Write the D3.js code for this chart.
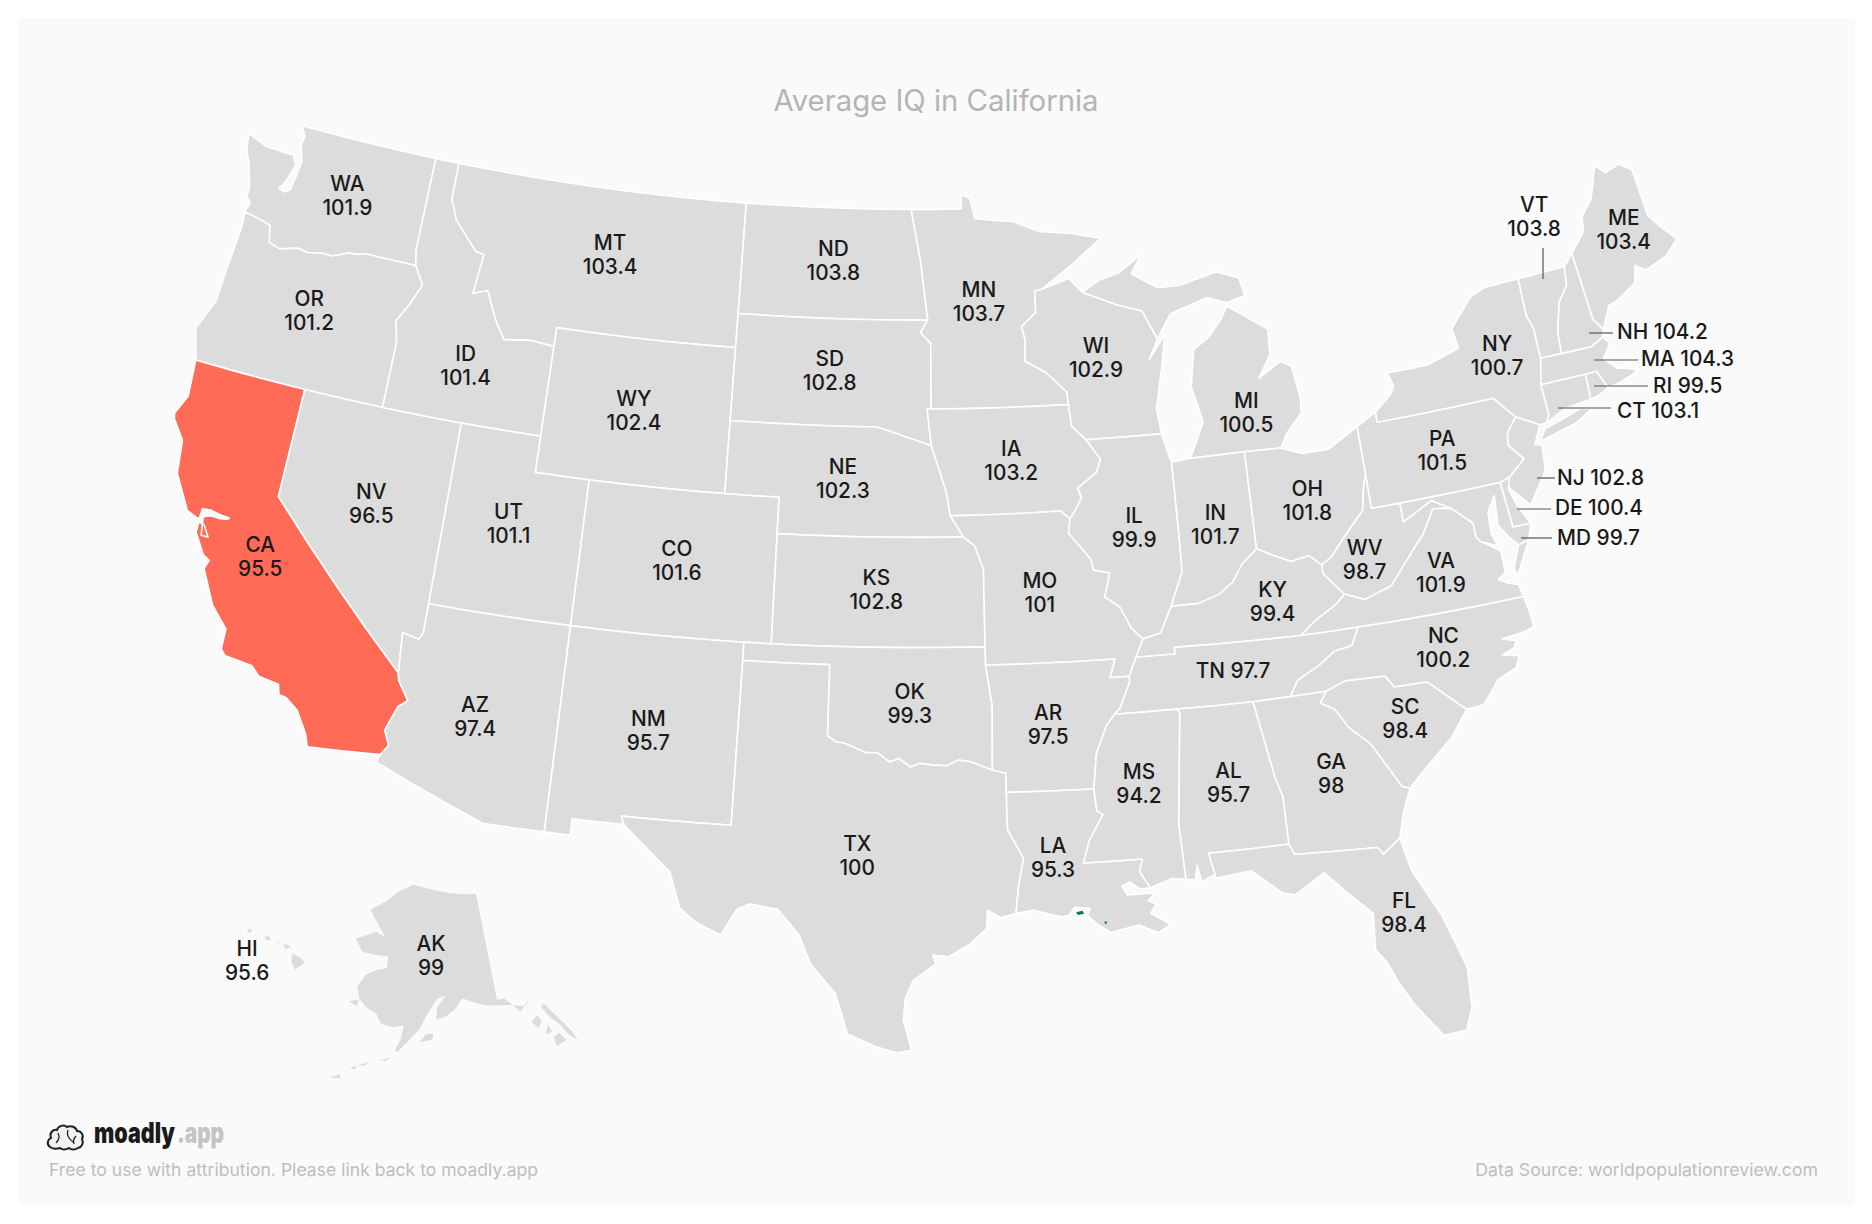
<!DOCTYPE html>
<html><head><meta charset="utf-8">
<script src="https://cdn.jsdelivr.net/npm/d3@7/dist/d3.min.js"></script>
<style>html,body{margin:0;padding:0;background:#fff}svg{display:block}text{font-family:Inter,Roboto,sans-serif}</style>
</head><body><svg id="c" width="1872" height="1224"></svg>
<script>
const stateCodes=["WA","OR","CA","NV","ID","MT","WY","UT","AZ","CO","NM","ND","SD","NE","KS","OK","TX","MN","IA","MO","AR","LA","WI","IL","MI","IN","OH","KY","WV","VA","TN","NC","SC","GA","AL","MS","FL","PA","NY","VT","ME","HI","AK","NH","MA","RI","CT","NJ","DE","MD"];
const iqValues=["101.9","101.2","95.5","96.5","101.4","103.4","102.4","101.1","97.4","101.6","95.7","103.8","102.8","102.3","102.8","99.3","100","103.7","103.2","101","97.5","95.3","102.9","99.9","100.5","101.7","101.8","99.4","98.7","101.9","97.7","100.2","98.4","98","95.7","94.2","98.4","101.5","100.7","103.8","103.4","95.6","99","104.2","104.3","99.5","103.1","102.8","100.4","99.7"];
const titleText="Average IQ in California";
const highlightState="CA";
const redRiver="-94.48 33.64,-94.9 33.78,-95.2 33.88,-95.6 33.93,-96 33.78,-96.45 33.8,-96.9 33.85,-97.2 33.75,-97.6 33.98,-97.9 33.88,-98.3 34.13,-98.7 34.13,-99.2 34.3,-99.45 34.38,-99.7 34.4,-100 34.56";
const rev=s=>s.split(",").reverse().join(",");
const outlines={
WA:["-124.73 48.38,-123.9 48.17,-123.1 48.15,-122.75 48.15,-122.55 47.9,-122.75 47.4,-122.95 47.15,-122.7 47.1,-122.5 47.2,-122.4 47.65,-122.35 48.05,-122.55 48.45,-122.5 48.75,-122.76 49,-117.03 49,-117.04 46.42,-116.92 45.99,-118.98 46,-119.3 45.93,-119.6 45.92,-120.2 45.73,-120.65 45.73,-121.2 45.65,-121.6 45.7,-122.3 45.55,-122.75 45.65,-122.9 46.1,-123.4 46.2,-124 46.27,-123.9 46.55,-124.1 46.7,-124.1 46.95,-124.4 47.6,-124.65 47.95"],
OR:["-124 46.27,-123.4 46.2,-122.9 46.1,-122.75 45.65,-122.3 45.55,-121.6 45.7,-121.2 45.65,-120.65 45.73,-120.2 45.73,-119.6 45.92,-119.3 45.93,-118.98 46,-116.92 45.99,-116.5 45.5,-116.85 44.9,-117.22 44.4,-117.03 43.83,-117.03 42,-124.21 42,-124.55 42.84,-124.1 43.7,-124.05 44.7,-123.95 45.9"],
CA:["-124.21 42,-120 42,-120 39,-114.63 35,-114.57 34.8,-114.14 34.3,-114.43 34.1,-114.72 33.4,-114.5 33,-114.72 32.72,-117.12 32.53,-117.25 32.85,-117.7 33.45,-118.15 33.72,-118.4 33.75,-118.5 34.03,-119.2 34.12,-119.5 34.35,-120.47 34.45,-120.64 34.6,-120.65 35.15,-121.3 35.7,-121.9 36.6,-121.8 36.85,-122.05 36.95,-122.5 37.5,-122.5 37.78,-122.3 37.75,-122.05 37.45,-122.3 37.45,-122.4 37.95,-122.15 38.03,-121.85 38.02,-121.55 38.05,-121.5 38.1,-121.85 38.12,-122.2 38.18,-122.5 38.15,-122.52 37.85,-123 38,-123.7 38.9,-123.85 39.8,-124.35 40.3,-124.4 40.45,-124.1 41,-124.21 42"],
NV:["-120 42,-114.04 42,-114.04 36.2,-114.15 36,-114.74 36.1,-114.63 35,-120 39"],
ID:["-117.03 49,-116.05 49,-116.05 48,-115.7 47.45,-114.7 46.7,-114.35 46.65,-114.5 45.55,-113.95 45.7,-113.45 44.95,-113 44.45,-112 44.55,-111.05 44.48,-111.05 42,-117.03 42,-117.03 43.83,-117.22 44.4,-116.85 44.9,-116.5 45.5,-116.92 45.99,-117.04 46.42"],
MT:["-116.05 49,-104.05 49,-104.05 45,-111.05 45,-111.05 44.48,-112 44.55,-113 44.45,-113.45 44.95,-113.95 45.7,-114.5 45.55,-114.35 46.65,-114.7 46.7,-115.7 47.45,-116.05 48"],
WY:["-111.05 45,-104.05 45,-104.05 41,-111.05 41"],
UT:["-114.04 42,-111.05 42,-111.05 41,-109.05 41,-109.05 37,-114.04 37"],
AZ:["-114.04 37,-109.05 37,-109.05 31.33,-111.07 31.33,-114.81 32.5,-114.72 32.72,-114.5 33,-114.72 33.4,-114.43 34.1,-114.14 34.3,-114.57 34.8,-114.63 35,-114.74 36.1,-114.15 36,-114.04 36.2"],
CO:["-109.05 41,-102.05 41,-102.05 37,-109.05 37"],
NM:["-109.05 37,-103 37,-103.04 32,-106.62 32,-106.53 31.78,-108.21 31.78,-108.21 31.33,-109.05 31.33"],
ND:["-104.05 49,-97.23 49,-96.85 47.6,-96.56 45.94,-104.05 45.94"],
SD:["-104.05 45.94,-96.56 45.94,-96.85 45.6,-96.45 45.3,-96.45 43.5,-96.6 43.5,-96.45 42.5,-97.85 42.85,-98.5 43,-104.05 43"],
NE:["-104.05 43,-98.5 43,-97.85 42.85,-96.45 42.5,-96.1 41.7,-95.9 41.2,-95.77 40.58,-95.3 40,-102.05 40,-102.05 41,-104.05 41"],
KS:["-102.05 40,-95.3 40,-94.9 39.75,-94.61 39.11,-94.62 37,-102.05 37"],
OK:["-103 37,-94.62 37,-94.62 36.5,-94.43 35.4,"+redRiver+",-100 36.5,-103 36.5"],
TX:["-103 36.5,-100 36.5,"+rev(redRiver)+",-94.04 33.55,-94.04 33.02,-94.04 32,-93.55 31.2,-93.75 30.4,-93.85 29.7,-94.35 29.6,-94.75 29.8,-94.8 29.3,-95.3 28.9,-96 28.55,-96.5 28.6,-96.4 28.35,-97.1 27.9,-97.35 27.4,-97.4 26.8,-97.15 25.96,-97.6 25.9,-98.2 26.05,-99.1 26.4,-99.5 27.5,-100.3 28.3,-100.7 29.1,-101.4 29.77,-102.3 29.88,-102.7 29.7,-103.15 28.98,-104 29.3,-104.5 29.65,-104.9 30.6,-106 31.4,-106.53 31.78,-106.62 32,-103.04 32"],
MN:["-97.23 49,-95.15 49,-95.15 49.38,-94.8 49.3,-94.6 48.72,-93 48.6,-92 48.3,-90.8 48.2,-89.5 48,-90.8 47.3,-92 46.7,-92.29 46.66,-92.29 46.07,-92.87 45.7,-92.75 45.3,-92.8 44.75,-92 44.4,-91.25 43.85,-91.22 43.5,-96.45 43.5,-96.45 45.3,-96.85 45.6,-96.56 45.94,-96.85 47.6"],
IA:["-96.45 43.5,-91.22 43.5,-91.15 42.9,-90.64 42.51,-90.15 41.95,-90.34 41.6,-91.07 41.2,-90.95 40.95,-91.12 40.7,-91.42 40.38,-91.73 40.61,-95.77 40.58,-95.9 41.2,-96.1 41.7,-96.45 42.5,-96.6 43.5"],
MO:["-95.77 40.58,-91.73 40.61,-91.42 40.38,-91.5 40,-90.75 39.25,-90.68 38.95,-90.12 38.85,-90.2 38.6,-90.35 38.2,-89.85 37.9,-89.5 37.3,-89.13 36.98,-89.42 36.5,-89.7 36,-90.37 36,-90.15 36.5,-94.62 36.5,-94.62 37,-94.61 39.11,-94.9 39.75,-95.3 40"],
AR:["-94.62 36.5,-90.15 36.5,-90.37 36,-89.7 36,-89.7 35.85,-90.1 35.15,-90.3 35,-90.6 34.7,-91 33.95,-91.15 33,-94.04 33.02,-94.04 33.55,-94.48 33.64,-94.43 35.4"],
LA:["-94.04 33.02,-91.15 33,-91.1 32.4,-90.9 32.3,-91.4 31.6,-91.63 31,-89.73 31,-89.85 30.67,-89.55 30.2,-89.85 30.18,-90.2 30.4,-90.45 30.3,-90.3 30.05,-89.85 30.05,-89.4 30.05,-89.65 29.85,-89.4 29.75,-89.6 29.5,-89 29.15,-89.4 28.95,-90 29.2,-90.9 29.05,-91.3 29.3,-91.6 29.55,-91.5 29.75,-92 29.8,-92.15 29.6,-92.4 29.55,-93.3 29.77,-93.85 29.7,-93.75 30.4,-93.55 31.2,-94.04 32"],
MS:["-90.3 35,-88.2 35,-88.1 34.9,-88.47 31.9,-88.4 30.35,-88.85 30.4,-89.55 30.2,-89.85 30.67,-89.73 31,-91.63 31,-91.4 31.6,-90.9 32.3,-91.1 32.4,-91.15 33,-91 33.95,-90.6 34.7"],
AL:["-88.2 35,-85.6 34.98,-85.18 32.87,-85 32.3,-85 31,-87.6 31,-87.45 30.4,-87.9 30.25,-88 30.7,-88.1 30.3,-88.4 30.35,-88.47 31.9,-88.1 34.9"],
GA:["-85.6 34.98,-84.32 34.99,-83.1 35,-83.35 34.7,-82.9 34.48,-82.55 33.95,-81.9 33.4,-81.4 32.6,-81.1 32.1,-80.85 32.03,-81.2 31.4,-81.45 30.72,-82.05 30.36,-82.2 30.57,-84.86 30.7,-85 31,-85 32.3,-85.18 32.87"],
FL:["-87.6 31,-85 31,-84.86 30.7,-82.2 30.57,-82.05 30.36,-81.45 30.72,-81.25 29.8,-80.55 28.45,-80.05 26.9,-80.13 25.8,-80.4 25.2,-81.1 25.15,-81.8 26.1,-82.2 26.8,-82.45 27.4,-82.75 27.8,-82.65 28.8,-83.4 29.5,-84 30.1,-85 29.6,-85.4 29.7,-86.3 30.4,-87.45 30.3,-87.45 30.4"],
SC:["-83.1 35,-82.4 35.2,-81.05 35.15,-80.8 34.82,-79.68 34.8,-78.55 33.86,-79.2 33.2,-80.5 32.3,-80.85 32.03,-81.1 32.1,-81.4 32.6,-81.9 33.4,-82.55 33.95,-82.9 34.48,-83.35 34.7"],
NC:["-84.32 34.99,-83.1 35,-82.4 35.2,-81.05 35.15,-80.8 34.82,-79.68 34.8,-78.55 33.86,-77.95 33.9,-77.3 34.5,-76.65 34.7,-76.45 35,-77 35.12,-76.55 35.25,-76.45 35.42,-76.9 35.55,-76.05 35.62,-75.75 35.7,-75.8 36.2,-75.87 36.55,-81.68 36.59,-82 36.12,-82.6 36.05,-83.15 35.75,-84 35.4"],
TN:["-90.3 35,-88.2 35,-85.6 34.98,-84.32 34.99,-84 35.4,-83.15 35.75,-82.6 36.05,-82 36.12,-81.68 36.59,-83.68 36.6,-88.07 36.68,-88.07 36.5,-89.42 36.5,-89.7 36,-89.7 35.85,-90.1 35.15"],
KY:["-89.42 36.5,-88.07 36.5,-88.07 36.68,-83.68 36.6,-83.1 36.95,-82.3 37.3,-81.97 37.54,-82.6 38.17,-82.6 38.42,-83 38.72,-83.65 38.63,-84.23 38.85,-84.82 39.1,-85.4 38.73,-85.8 38.28,-86.3 38,-87.1 37.8,-88.05 37.8,-88.5 37.1,-89.13 36.98"],
VA:["-83.68 36.6,-81.68 36.59,-75.87 36.55,-75.95 36.9,-76.3 37,-76.6 37.15,-76.3 37.3,-76.3 37.9,-76.9 38.25,-77.05 38.4,-77.05 38.8,-77.72 39.32,-78.35 39.4,-78.87 38.77,-79.3 38.42,-80.3 37.55,-81.3 37.3,-81.97 37.54,-82.3 37.3,-83.1 36.95","-75.65 37.95,-75.25 38.03,-75.9 37.15,-75.98 37.35"],
WV:["-80.52 40.64,-80.52 39.72,-79.48 39.72,-79.48 39.2,-78.35 39.63,-77.72 39.32,-78.35 39.4,-78.87 38.77,-79.3 38.42,-80.3 37.55,-81.3 37.3,-81.97 37.54,-82.6 38.17,-82.6 38.42,-82.2 38.6,-81.75 39,-80.85 39.7,-80.65 40.4"],
MD:["-79.48 39.72,-75.79 39.72,-75.7 38.46,-75.05 38.45,-75.25 38.03,-75.65 37.95,-75.9 38.2,-76.2 38.6,-76.1 39.4,-76.45 39,-76.5 38.4,-76.35 38.05,-76.9 38.25,-77.05 38.4,-77.05 38.8,-77.72 39.32,-78.35 39.63,-79.48 39.2"],
DE:["-75.79 39.72,-75.42 39.8,-75.55 39.5,-75.4 39.05,-75.05 38.45,-75.7 38.46"],
PA:["-80.52 41.98,-79.76 42.27,-79.76 42,-75.35 42,-74.7 41.36,-75.13 40.98,-75.2 40.65,-74.75 40.2,-75.42 39.8,-75.79 39.72,-80.52 39.72,-80.52 40.64"],
NJ:["-74.7 41.36,-73.9 41,-74.25 40.5,-74 40.45,-74.1 39.75,-74.9 38.93,-75.5 39.5,-75.55 39.6,-75.42 39.8,-74.75 40.2,-75.2 40.65,-75.13 40.98"],
NY:["-79.76 42.27,-79.05 42.7,-78.9 42.9,-79.05 43.27,-77.5 43.27,-76.4 43.5,-76.2 43.55,-76.3 44.1,-75.3 44.85,-74.7 45,-73.35 45.01,-73.4 44,-73.25 43.6,-73.27 42.75,-73.5 42.05,-73.49 41.2,-73.65 41,-73.9 41,-74.7 41.36,-75.35 42,-79.76 42","-74 40.6,-73.75 40.85,-72.3 41.15,-71.9 41.07,-72.6 40.8,-73.9 40.57"],
CT:["-73.5 42.05,-71.8 42.02,-71.85 41.32,-72.9 41.25,-73.65 41,-73.49 41.2"],
RI:["-71.8 42.02,-71.38 42.02,-71.12 41.5,-71.5 41.37,-71.85 41.32"],
MA:["-73.5 42.05,-73.27 42.75,-71.3 42.7,-70.8 42.87,-70.6 42.65,-71 42.3,-70.6 41.95,-70 41.8,-70.2 42.07,-69.95 41.7,-70.65 41.55,-71.12 41.5,-71.38 42.02,-71.8 42.02"],
VT:["-73.35 45.01,-71.5 45.01,-71.6 44.5,-72.05 44.1,-72.4 43.3,-72.46 42.73,-73.27 42.75,-73.25 43.6,-73.4 44"],
NH:["-71.5 45.01,-71.08 45.3,-70.98 43.4,-70.7 43.07,-70.8 42.87,-71.3 42.7,-72.46 42.73,-72.4 43.3,-72.05 44.1,-71.6 44.5"],
ME:["-71.08 45.3,-70.4 45.8,-70.3 46.2,-69.75 46.6,-69.23 47.46,-68.9 47.18,-68.3 47.3,-67.85 47.05,-67.8 45.7,-67.45 45.3,-67 44.85,-67.6 44.5,-68 44.4,-68.5 44.3,-68.85 44.5,-69.05 44.05,-69.8 43.75,-70.25 43.65,-70.7 43.07,-70.98 43.4"],
OH:["-84.8 41.76,-83.45 41.73,-82.7 41.5,-81.7 41.5,-80.52 41.98,-80.52 40.64,-80.65 40.4,-80.85 39.7,-81.75 39,-82.2 38.6,-82.6 38.42,-83 38.72,-83.65 38.63,-84.23 38.85,-84.82 39.1"],
IN:["-87.53 41.7,-86.82 41.76,-84.8 41.76,-84.82 39.1,-85.4 38.73,-85.8 38.28,-86.3 38,-87.1 37.8,-88.05 37.8,-87.55 38.7,-87.53 39.35"],
IL:["-90.64 42.51,-87.8 42.5,-87.6 41.85,-87.53 41.7,-87.53 39.35,-87.55 38.7,-88.05 37.8,-88.5 37.1,-89.13 36.98,-89.5 37.3,-89.85 37.9,-90.35 38.2,-90.2 38.6,-90.12 38.85,-90.68 38.95,-90.75 39.25,-91.5 40,-91.42 40.38,-91.12 40.7,-90.95 40.95,-91.07 41.2,-90.34 41.6,-90.15 41.95"],
WI:["-92.29 46.66,-92 46.7,-90.9 46.95,-90.4 46.55,-89.1 46.14,-88.1 45.9,-87.6 45.1,-88 44.55,-87.3 45.2,-87.55 44.3,-87.9 43.2,-87.8 42.5,-90.64 42.51,-91.15 42.9,-91.22 43.5,-91.25 43.85,-92 44.4,-92.8 44.75,-92.75 45.3,-92.87 45.7,-92.29 46.07"],
MI:["-90.4 46.55,-89.1 46.14,-88.1 45.9,-87.6 45.1,-87 45.75,-86.3 45.9,-85.5 46.08,-84.75 45.87,-84 46,-84.15 46.5,-85 46.75,-86.5 46.5,-87.4 46.5,-88.4 46.95,-87.9 47.47,-88.9 47,-89.7 46.85","-86.82 41.76,-84.8 41.76,-83.45 41.73,-83.15 42.1,-82.5 42.6,-82.45 43,-82.6 43.9,-83 44.07,-83.9 43.7,-83.35 44.3,-83.3 45,-84.75 45.78,-85.1 45.4,-85.6 45,-86.25 44.7,-86.5 43.7,-86.2 42.7"],
AK:["-141 69.65,-141 60.3,-139.7 60.3,-137.5 58.9,-135.5 59.8,-136.5 59.2,-138.5 59.6,-140.5 59.8,-143 60,-145 60.4,-147 60.9,-148.5 60,-150 59.5,-151.8 59.2,-151.5 60.3,-150 61.2,-151.5 61,-153.5 59.5,-154.5 58.5,-156.5 57.3,-158 56.4,-158.4 56.5,-157.6 57.5,-157.2 58.7,-159 58.5,-161 58.7,-162 59.5,-164 60,-165.3 60.6,-166 61.6,-164.8 62.7,-163 63.2,-161 63.5,-161 64.5,-163 64.5,-166.3 64.6,-168.1 65.6,-164 66.5,-162 66.1,-163.8 67.1,-166.2 68.3,-163 69.2,-160 70.2,-156.6 70.9,-152 70.5,-148 70.1,-144 69.8","-154.5 57.3,-152.5 57.5,-152.3 58,-153.5 58","-167 60.2,-165.3 60.5,-165.5 59.9","-160.7 55.5,-159 55.9,-159.6 55.6","-163.9 54.9,-162.3 55.3,-162.7 55","-164.9 54.6,-163.9 54.85,-164.2 54.5","-167.5 53.4,-166.2 53.9,-166 53.6","-134 58.8,-133 57.6,-132 56.9,-131.2 55.8,-130.2 55.1,-130.6 56,-132 57.6,-133.4 59","-136.2 57.8,-135 58.2,-134.6 57.6,-135.4 57.1","-134.6 56.4,-133.8 57.2,-133.5 56.5","-133.5 55.2,-131.8 55.4,-132.5 56.2,-133.5 56"],
HI:["-155.9 20.25,-155.1 19.85,-154.85 19.5,-155.65 18.95,-155.95 19.5","-156.7 20.95,-156.3 20.95,-156 20.75,-156.4 20.6","-157.3 21.2,-156.75 21.15,-157.1 21.1","-158.25 21.55,-157.95 21.7,-157.65 21.3,-158.1 21.3","-159.75 22.1,-159.35 22.2,-159.35 21.9,-159.6 21.9"]
};
const islandMarks=["-91.95 29.66,-91.75 29.69,-91.7 29.61,-91.9 29.58","-91.07 29.36,-91 29.36,-91 29.3,-91.07 29.3"];
const labelAt={WA:[291,153],OR:[259,250],CA:[218,456],NV:[311,411],ID:[390,296],MT:[511,203],WY:[531,333],UT:[426,428],AZ:[398,590],CO:[567,459],NM:[543,601],ND:[698,208],SD:[695,300],NE:[706,390],KS:[734,483],OK:[762,579],TX:[718,706],MN:[820,242],IA:[847,375],MO:[871,486],AR:[878,596],LA:[882,708],WI:[918,289],IL:[950,431],MI:[1044,335],IN:[1018,429],OH:[1095,409],KY:[1066,493],WV:[1143,458],VA:[1207,469],NC:[1209,532],SC:[1177,591],GA:[1115,637],AL:[1029,645],MS:[954,646],FL:[1176,754],PA:[1208,367],NY:[1254,287],VT:[1285,171],ME:[1360,182],HI:[207,794],AK:[361,790]};
const inlineLabels={TN:{x:1233,y:670,anchor:"middle"},NH:{x:1617,y:331,x0:1589,x1:1613,ly:333},MA:{x:1641,y:358,x0:1594,x1:1638,ly:360},RI:{x:1653,y:385,x0:1594,x1:1648,ly:386},CT:{x:1617,y:410,x0:1558,x1:1611,ly:408},NJ:{x:1557,y:477,x0:1537,x1:1555,ly:478},DE:{x:1555,y:507,x0:1517,x1:1551,ly:509},MD:{x:1557,y:537,x0:1521,x1:1552,ly:538}};
// reference anchors for fitting the lower-48 projection
const fitLonLat=[[-124.21,42],[-122.76,49],[-117.03,49],[-116.05,49],[-116.92,45.99],[-109.05,41],[-97.23,49],[-73.35,45.01],[-71.08,45.3],[-97.15,25.96],[-102.05,37],[-103.04,32],[-90.64,42.51],[-87.8,42.5],[-84.8,41.76],[-80.52,41.98],[-80.52,39.72],[-75.79,39.72],[-75.87,36.55],[-84.86,30.7],[-88.4,30.35],[-89.73,31],[-94.04,33.02],[-91.15,33],[-81.1,25.15]];
const fitPixels=[[195,362],[300,128],[434,159],[458,164],[415,264],[590,481],[913,211],[1520,280],[1575,257],[904,1051],[774,645],[731,824],[1087,438],[1162,433],[1246,452],[1358,428],[1372,507],[1502,482],[1520,598],[1294,853],[1185,877],[1143,858],[1006,791],[1093,788],[1447,1032]];

const parse=s=>s.split(",").map(p=>p.trim().split(" ").map(Number));
const densify=r=>{const o=[];r.forEach((p,i)=>{const q=r[(i+1)%r.length],n=Math.ceil(Math.abs(q[0]-p[0])/1.5)||1;for(let j=0;j<n;j++)o.push([p[0]+(q[0]-p[0])*j/n,p[1]+(q[1]-p[1])*j/n]);});return o;};

// similarity fit (least squares) of d3.geoAlbers to the anchors
const base=d3.geoAlbers().scale(1).translate([0,0]);
const src=fitLonLat.map(p=>base(p));
const mx=d3.mean(src,d=>d[0]),my=d3.mean(src,d=>d[1]),ux=d3.mean(fitPixels,d=>d[0]),uy=d3.mean(fitPixels,d=>d[1]);
let sa=0,sb=0,sn=0;
src.forEach((p,i)=>{const x=p[0]-mx,y=p[1]-my,u=fitPixels[i][0]-ux,v=fitPixels[i][1]-uy;sa+=x*u+y*v;sb+=x*v-y*u;sn+=x*x+y*y;});
const fa=sa/sn,fb=sb/sn;
const lower=ll=>{const p=base(ll),x=p[0]-mx,y=p[1]-my;return [fa*x-fb*y+ux,fb*x+fa*y+uy];};
const akP=d3.geoConicEqualArea().rotate([154,0]).center([0,58.5]).parallels([55,65]).scale(665).translate([0,0]);
const ak0=akP([-141,60.3]);akP.translate([497-ak0[0],1000-ak0[1]]);
const hiP=d3.geoConicEqualArea().rotate([157,0]).center([0,19.9]).parallels([8,18]).scale(720).translate([0,0]);
const hi0=hiP([-155.4,19.55]);hiP.translate([298-hi0[0],962-hi0[1]]);
const projFor=c=>c==="AK"?akP:c==="HI"?hiP:lower;

const line=d3.line();
const ringPath=(rs,p)=>rs.map(s=>line(densify(parse(s)).map(x=>p(x)))+"Z").join("");

const svg=d3.select("#c");
svg.append("rect").attr("x",18).attr("y",18).attr("width",1837).attr("height",1187).attr("rx",4).attr("fill","#fafafa");
svg.append("text").attr("x",936).attr("y",111).attr("text-anchor","middle").attr("font-size",29.3).attr("fill","#b4b4b4").text(titleText);

const map=svg.append("g");
map.selectAll("path.st").data(stateCodes).join("path").attr("class","st")
 .attr("d",c=>ringPath(outlines[c],projFor(c)))
 .attr("fill",c=>c===highlightState?"#ff6b57":"#dcdcdc")
 .attr("stroke",c=>(c==="AK"||c==="HI")?"none":"#fff").attr("stroke-width",1.6).attr("stroke-linejoin","round");
map.append("path").attr("d",ringPath(islandMarks,lower)).attr("fill","#0b7a5c");

const valueOf=c=>iqValues[stateCodes.indexOf(c)];
const f=1872/1568;
const lab=svg.append("g").attr("fill","#1a1a1a").attr("font-size",20.8).attr("font-weight",500);
Object.keys(labelAt).forEach(c=>{
 const [x,y]=labelAt[c];
 lab.append("text").attr("x",x*f).attr("y",y*f+8).attr("text-anchor","middle").text(c);
 lab.append("text").attr("x",x*f).attr("y",y*f+32).attr("text-anchor","middle").text(valueOf(c));
});
Object.keys(inlineLabels).forEach(c=>{
 const d=inlineLabels[c];
 lab.append("text").attr("x",d.x).attr("y",d.y+8).attr("text-anchor",d.anchor||"start").text(c+" "+valueOf(c));
 if(d.x0) svg.append("line").attr("x1",d.x0).attr("x2",d.x1).attr("y1",d.ly).attr("y2",d.ly).attr("stroke","#555").attr("stroke-width",1.2);
});
svg.append("line").attr("x1",1543).attr("x2",1543).attr("y1",248).attr("y2",279).attr("stroke","#555").attr("stroke-width",1.2);

// footer
const brain=svg.append("g").attr("fill","#f2f2f0").attr("stroke","#222").attr("stroke-width",2);
brain.append("path").attr("d","M50 1147c-4-3-2-8 1-9-2-5 2-9 6-8 1-4 7-6 10-3 4-2 9 0 10 4 5 0 7 5 5 8 2 4 0 8-4 9-3 2-7 2-9 0-3 2-7 2-9 0-3 1-7 1-10-1z");
brain.append("path").attr("d","M58 1133c2 4 0 8-2 10M68 1130c-2 5 1 9 5 12M76 1136c-2 2-3 5-2 8").attr("fill","none").attr("stroke-width",1.3);
svg.append("text").attr("x",94).attr("y",1143).attr("font-family","Roboto").attr("font-size",28).attr("font-weight",900).attr("fill","#1a1a1a").attr("textLength",81).attr("lengthAdjust","spacingAndGlyphs").text("moadly");
svg.append("text").attr("x",177).attr("y",1143).attr("font-family","Roboto").attr("font-size",28).attr("font-weight",900).attr("fill","#c4c4c4").attr("textLength",47).attr("lengthAdjust","spacingAndGlyphs").text(".app");
svg.append("text").attr("x",49).attr("y",1176).attr("font-size",17.5).attr("fill","#bdbdbd").attr("textLength",489).text("Free to use with attribution. Please link back to moadly.app");
svg.append("text").attr("x",1818).attr("y",1176).attr("text-anchor","end").attr("font-size",17.7).attr("fill","#bdbdbd").text("Data Source: worldpopulationreview.com");
</script></body></html>
